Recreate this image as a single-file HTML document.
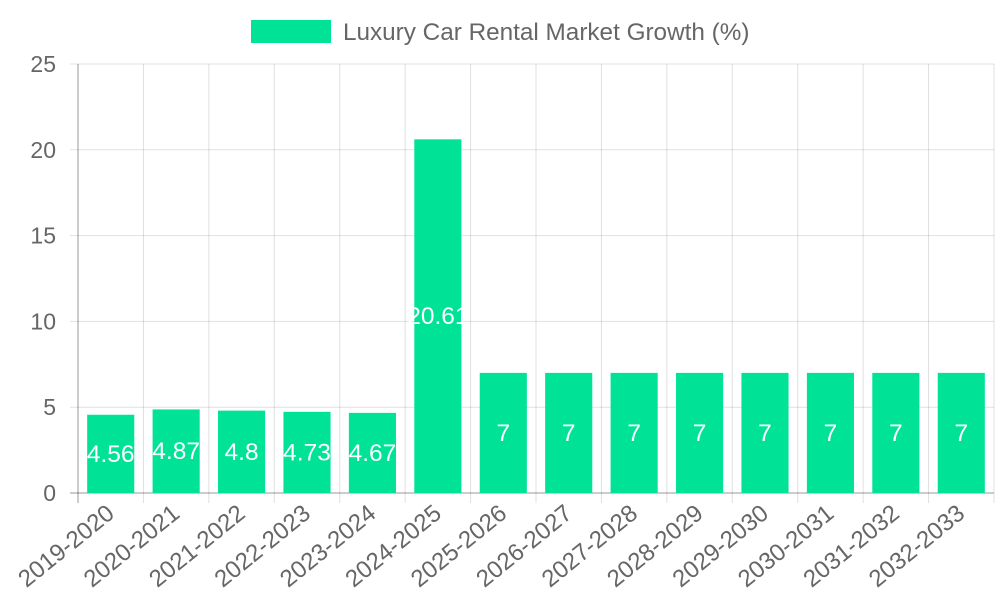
<!DOCTYPE html>
<html><head><meta charset="utf-8"><style>
body{margin:0;background:#fff}
svg{display:block;font-family:"Liberation Sans",sans-serif}
</style></head><body>
<svg id="chart" width="1000" height="600" viewBox="0 0 1000 600">
<g>
<rect x="251" y="20" width="80" height="23" fill="#00e396"/>
<text x="343" y="40" font-size="24.3" fill="#666">Luxury Car Rental Market Growth (%)</text>
</g>
<g id="grid"></g><g id="bars"></g><g id="labels"></g><g id="axes"></g>
</svg>
<script>
const categories=["2019-2020","2020-2021","2021-2022","2022-2023","2023-2024","2024-2025","2025-2026","2026-2027","2027-2028","2028-2029","2029-2030","2030-2031","2031-2032","2032-2033"];
const values=[4.56,4.87,4.8,4.73,4.67,20.61,7,7,7,7,7,7,7,7];
const yTicks=[0,5,10,15,20,25];
const NS="http://www.w3.org/2000/svg";
const L=78,R=994,T=64,B=493,yMax=25;
const bw=(R-L)/categories.length;
const y=v=>B-(v/yMax)*(B-T);
const x=i=>L+bw*i;
function mk(tag,attrs,parent,text){const e=document.createElementNS(NS,tag);for(const k in attrs)e.setAttribute(k,attrs[k]);if(text!==undefined)e.textContent=text;document.getElementById(parent).appendChild(e);return e;}
yTicks.forEach(t=>{
const g=mk('line',{x1:70,x2:R,y1:y(t),y2:y(t),stroke:t===0?'rgba(0,0,0,0.4)':'rgba(0,0,0,0.12)'},'grid');


const tl=mk('text',{x:56,y:y(t)+8,'text-anchor':'end','font-size':23,fill:'#666'},'axes',String(t));


});
for(let i=0;i<=categories.length;i++){
const g=mk('line',{x1:x(i),x2:x(i),y1:T,y2:B+10,stroke:i===0?'rgba(0,0,0,0.4)':'rgba(0,0,0,0.12)'},'grid');


}
categories.forEach((c,i)=>{
const cx=x(i)+bw/2,w=bw*0.72;
const b=mk('rect',{x:cx-w/2,y:y(values[i]),width:w,height:B-y(values[i]),fill:'#00e396'},'bars');


const vl=mk('text',{x:cx,y:(y(values[i])+B)/2+8,'text-anchor':'middle','font-size':24.5,fill:'#fff'},'labels',String(values[i]));


const xl=mk('text',{x:0,y:0,'text-anchor':'end','font-size':24,fill:'#666',transform:`translate(${cx+5},${B+23}) rotate(-39)`},'axes',c);


});
</script>
</body></html>
